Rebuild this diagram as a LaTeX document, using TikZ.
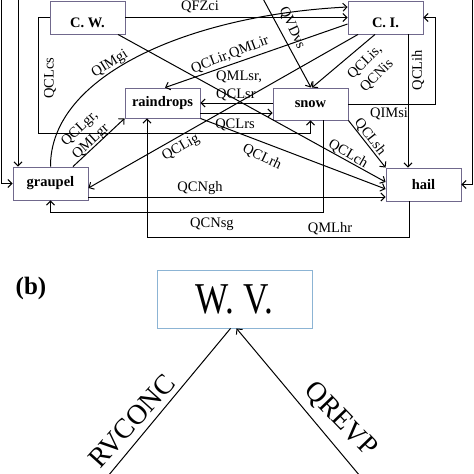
\documentclass[tikz,border=0pt]{standalone}
\usepackage{fontspec}
\setmainfont{Liberation Serif}
\usetikzlibrary{arrows.meta}
\definecolor{boxline}{RGB}{112,104,140}
\definecolor{wvline}{RGB}{140,180,212}

\begin{document}
\begin{tikzpicture}[
		x=1pt, y=-1pt,
		>={Straight Barb[length=4pt,width=8pt]},
		box/.style={rectangle, draw=boxline, line width=0.9pt, minimum width=75pt, minimum height=32pt, inner sep=0pt, font=\fontsize{14.5}{16}\selectfont\bfseries},
		lbl/.style={inner sep=0pt, font=\fontsize{14.5}{18}\selectfont},
		big/.style={inner sep=0pt, font=\fontsize{28}{30}\selectfont},
		flow/.style={->, line width=1pt}
	]
  \useasboundingbox (0,0) rectangle (474,474);
  % panel (a)
  \node (cw) [box, minimum height=33pt, text height=19pt, text depth=0pt] at (87.5,17.5) {C. W.};
  \node (ci) [box, minimum height=33pt, text height=19pt, text depth=0pt] at (385.5,17.5) {C. I.};
  \node (rd) [box, minimum height=30pt] at (162.5,103) {raindrops};
  \node (sn) [box] at (310.5,104) {snow};
  \node (gr) [box, minimum height=33pt] at (50.5,183.5) {graupel};
  \node (hl) [box, minimum height=33pt] at (423.5,184.5) {hail};
  \coordinate (inl) at (1.5,-5);
  \coordinate (ing) at (18,-5);
  \coordinate (inr) at (472,-5);
  \coordinate (invs) at (261,-5);

  \draw [flow] (inl) |- (gr.west);
  \draw [flow] (ing) -- ([xshift=-32.5pt]gr.north);
  \draw [flow] (inr) |- (hl.east);
  \draw [flow] (cw.east) -- (ci.west);
  \draw [flow] (gr.north) .. controls (50,75) and (190,15) .. ([yshift=10.5pt]ci.west);
  \draw [flow] (cw.west) -| (38,133) -| (sn.south);
  \draw [flow] ([xshift=30.5pt]cw.south) -- ([yshift=2.5pt]hl.west);
  \draw [flow] ([yshift=-6.5pt]ci.west) -- ([xshift=2.5pt]rd.north);
  \draw [flow] ([xshift=-27.5pt]ci.south) -- ([yshift=-4.5pt]gr.east);
  \draw [flow] ([xshift=-10.5pt]ci.south) -- ([xshift=1.5pt]sn.north);
  \draw [flow] (invs) -- ([xshift=0.5pt]sn.north);
  \draw [flow] ([xshift=22.5pt]ci.south) -- ([xshift=-15.5pt]hl.north);
  \draw [flow] (sn.east) -| ([xshift=12pt]ci.east) -- (ci.east);
  \draw [flow] (sn.west |- rd.east) -- (rd.east);
  \draw [flow] ([yshift=-10pt]rd.east) -- ([yshift=-10pt]rd.east -| sn.west);
  \draw [flow] ([xshift=22.5pt]gr.north) -- (rd.south west);
  \draw [flow] (rd.south east) -- ([yshift=-4.5pt]hl.west);
  \draw [flow] (sn.south east) -- (hl.north west);
  \draw [flow] ([yshift=-13.5pt]gr.east) -- ([yshift=-13.5pt]gr.east -| hl.west);
  \draw [flow] ([xshift=12.5pt]sn.south) -- ++(0,92) -| (gr.south);
  \draw [flow] ([xshift=-14.5pt]hl.south) -- ++(0,36) -| ([xshift=-15.5pt]rd.south);

  \node (qfzci) [lbl] at (200,7) {QFZci};
  \node (qimgi) [lbl, rotate=32] at (110,64) {QIMgi};
  \node (qclcs) [lbl, rotate=90] at (50,78) {QCLcs};
  \node (qclir) [lbl, rotate=21] at (230,55) {QCLir,QMLir};
  \node (qmlsr) [lbl, anchor=west] at (216,77) {QMLsr,};
  \node (qclsr) [lbl, anchor=west] at (216,95) {QCLsr};
  \node (qvdvs) [lbl, rotate=-65] at (292,28) {QVDvs};
  \node (qclis) [lbl, rotate=45] at (365,62) {QCLis,};
  \node (qcnis) [lbl, rotate=45] at (377,76) {QCNis};
  \node (qclih) [lbl, rotate=90] at (418,70) {QCLih};
  \node (qimsi) [lbl] at (389,114) {QIMsi};
  \node (qclsh) [lbl, rotate=-52] at (370,137) {QCLsh};
  \node (qclch) [lbl, rotate=-30] at (348,154) {QCLch};
  \node (qclrh) [lbl, rotate=-25] at (262,157) {QCLrh};
  \node (qclig) [lbl, rotate=30] at (181,148) {QCLig};
  \node (qclrs) [lbl] at (235,125) {QCLrs};
  \node (qcngh) [lbl] at (200,188) {QCNgh};
  \node (qcnsg) [lbl] at (212,224) {QCNsg};
  \node (qmlhr) [lbl] at (330,229) {QMLhr};
  \node (qclgr) [lbl, rotate=43] at (80,129) {QCLgr,};
  \node (qmlgr) [lbl, rotate=43] at (91,142) {QMLgr};

  % panel (b)
  \node (pb) [inner sep=0pt, font=\fontsize{25}{27}\selectfont\bfseries] at (31,288) {(b)};
  \node (wv) [rectangle, draw=wvline, line width=0.9pt, minimum width=155pt, minimum height=58pt, inner sep=0pt, font=\fontsize{44}{46}\selectfont] at (234.5,299) {\scalebox{0.8}[1]{W. V.}};
  \coordinate (rvend) at (108,476);
  \coordinate (qrend) at (360,476);
  \draw [line width=1pt] (rvend) -- ([xshift=-4pt]wv.south);
  \draw [flow] (qrend) -- ([xshift=2pt]wv.south);
  \node (rvconc) [big, rotate=48] at (132,421) {RVCONC};
  \node (qrevp) [big, rotate=-46] at (340,420) {QREVP};
\end{tikzpicture}
\end{document}
